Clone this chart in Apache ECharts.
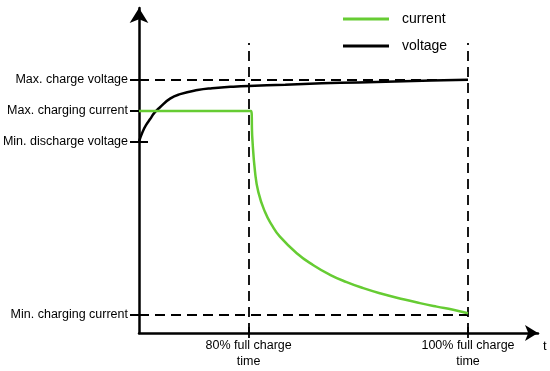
<!DOCTYPE html>
<html>
<head>
<meta charset="utf-8">
<script src="https://cdn.jsdelivr.net/npm/echarts@6/dist/echarts.min.js"></script>
<style>html,body{margin:0;padding:0;background:#fff}#c{width:550px;height:371px}</style>
</head>
<body>
<div id="c"></div>
<script>
// ---- data ----
var seriesNames = ['current', 'voltage'];
// time in arbitrary units: 80% full charge at 60, 100% full charge at 180
var currentT = [0, 61.3, 62, 63.5, 65.3, 68.9, 72.6, 77.1, 86.3, 95.4, 104.5, 113.6, 122.7, 131.8, 144.6, 153.7, 162.9, 171.9, 180];
var currentV = [69.8, 69.8, 61.3, 50.6, 44.3, 38.1, 34.0, 30.3, 25.1, 21.3, 18.3, 16.0, 14.1, 12.5, 10.6, 9.4, 8.3, 7.3, 6.2];
var voltageT = [0, 2, 4, 6, 8.5, 11.5, 17, 22.5, 32, 40, 50, 60, 80, 100, 120, 140, 160, 180];
var voltageV = [60.2, 63.3, 65.5, 67.2, 69.3, 71.0, 73.7, 75.1, 76.4, 77.0, 77.4, 77.7, 78.1, 78.5, 78.8, 79.1, 79.4, 79.6];
var yLevelValues = [5.7, 60.2, 69.8, 79.6];
var yLevelLabels = ['Min. charging current', 'Min. discharge voltage', 'Max. charging current', 'Max. charge voltage'];
var xMarkValues = [60, 180];
var xMarkLabels = ['80% full charge\ntime', '100% full charge\ntime'];
var xMax = 218.3, yMax = 102.2, vLineTop = 91.2;

function zip(a, b) { return a.map(function (v, i) { return [v, b[i]]; }); }
function lookup(vals, labels, v) {
  for (var i = 0; i < vals.length; i++) if (Math.abs(vals[i] - v) < 1e-6) return labels[i];
  return '';
}
var font = 'Arial, "Liberation Sans", sans-serif';
var dashStyle = { color: '#000', width: 1.8, type: [10, 6] };

var chart = echarts.init(document.getElementById('c'));
chart.setOption({
  animation: false,
  backgroundColor: '#fff',
  grid: { left: 139, right: 12, top: 8, bottom: 38, outerBoundsMode: 'none' },
  legend: {
    orient: 'vertical', left: 343, top: 12, padding: 0, itemWidth: 46, itemHeight: 3, itemGap: 13,
    icon: 'rect',
    data: seriesNames,
    textStyle: { fontFamily: font, fontSize: 14, color: '#000', padding: [0, 0, 0, 8] }
  },
  xAxis: [{
    type: 'value', min: 0, max: xMax, position: 'bottom',
    name: 't', nameLocation: 'end', nameGap: 5,
    nameTextStyle: { fontFamily: font, fontSize: 13, color: '#000', verticalAlign: 'top', padding: [7, 0, 0, 0] },
    axisLine: { show: true, onZero: false, symbol: ['none', 'arrow'], symbolSize: [12, 13], lineStyle: { color: '#000', width: 2.5 } },
    axisTick: { show: true, inside: false, length: 5, customValues: xMarkValues, lineStyle: { color: '#000', width: 1.8 } },
    axisLabel: {
      show: true, customValues: xMarkValues, margin: 5, color: '#000', fontFamily: font, fontSize: 12.5, lineHeight: 16,
      formatter: function (v) { return lookup(xMarkValues, xMarkLabels, v); }
    },
    splitLine: { show: false }
  }, {
    type: 'value', min: 0, max: xMax, position: 'bottom',
    axisLine: { show: false },
    axisTick: { show: true, inside: true, length: 6, customValues: xMarkValues, lineStyle: { color: '#000', width: 1.8 } },
    axisLabel: { show: false }, splitLine: { show: false }
  }],
  yAxis: [{
    type: 'value', min: 0, max: yMax, position: 'left',
    axisLine: { show: true, onZero: false, symbol: ['none', 'arrow'], symbolSize: [14, 15], lineStyle: { color: '#000', width: 2.5 } },
    axisTick: { show: true, inside: false, length: 9, customValues: yLevelValues, lineStyle: { color: '#000', width: 2 } },
    axisLabel: {
      show: true, customValues: yLevelValues, margin: 11, color: '#000', fontFamily: font, fontSize: 12.5,
      formatter: function (v) { return lookup(yLevelValues, yLevelLabels, v); }
    },
    splitLine: { show: false }
  }, {
    type: 'value', min: 0, max: yMax, position: 'left', offset: 0,
    axisLine: { show: false },
    axisTick: { show: true, inside: true, length: 9, customValues: yLevelValues, lineStyle: { color: '#000', width: 2 } },
    axisLabel: { show: false }, splitLine: { show: false }
  }],
  series: [{
    name: 'current', type: 'line', data: zip(currentT, currentV),
    showSymbol: false, symbol: 'none', smooth: 0.5,
    lineStyle: { color: '#66CC33', width: 2.5 }, itemStyle: { color: '#66CC33' }, z: 5,
    markLine: {
      silent: true, symbol: ['none', 'none'], label: { show: false }, lineStyle: dashStyle,
      data: [
        [{ coord: [xMarkValues[0], 0] }, { coord: [xMarkValues[0], vLineTop] }],
        [{ coord: [xMarkValues[1], 0] }, { coord: [xMarkValues[1], vLineTop] }],
        [{ coord: [0, yLevelValues[3]] }, { coord: [xMarkValues[1], yLevelValues[3]] }],
        [{ coord: [0, yLevelValues[0]] }, { coord: [xMarkValues[1], yLevelValues[0]] }]
      ]
    }
  }, {
    name: 'voltage', type: 'line', data: zip(voltageT, voltageV),
    showSymbol: false, symbol: 'none', smooth: 0.5,
    lineStyle: { color: '#000', width: 2.5 }, itemStyle: { color: '#000' }, z: 4
  }]
});
</script>
</body>
</html>
